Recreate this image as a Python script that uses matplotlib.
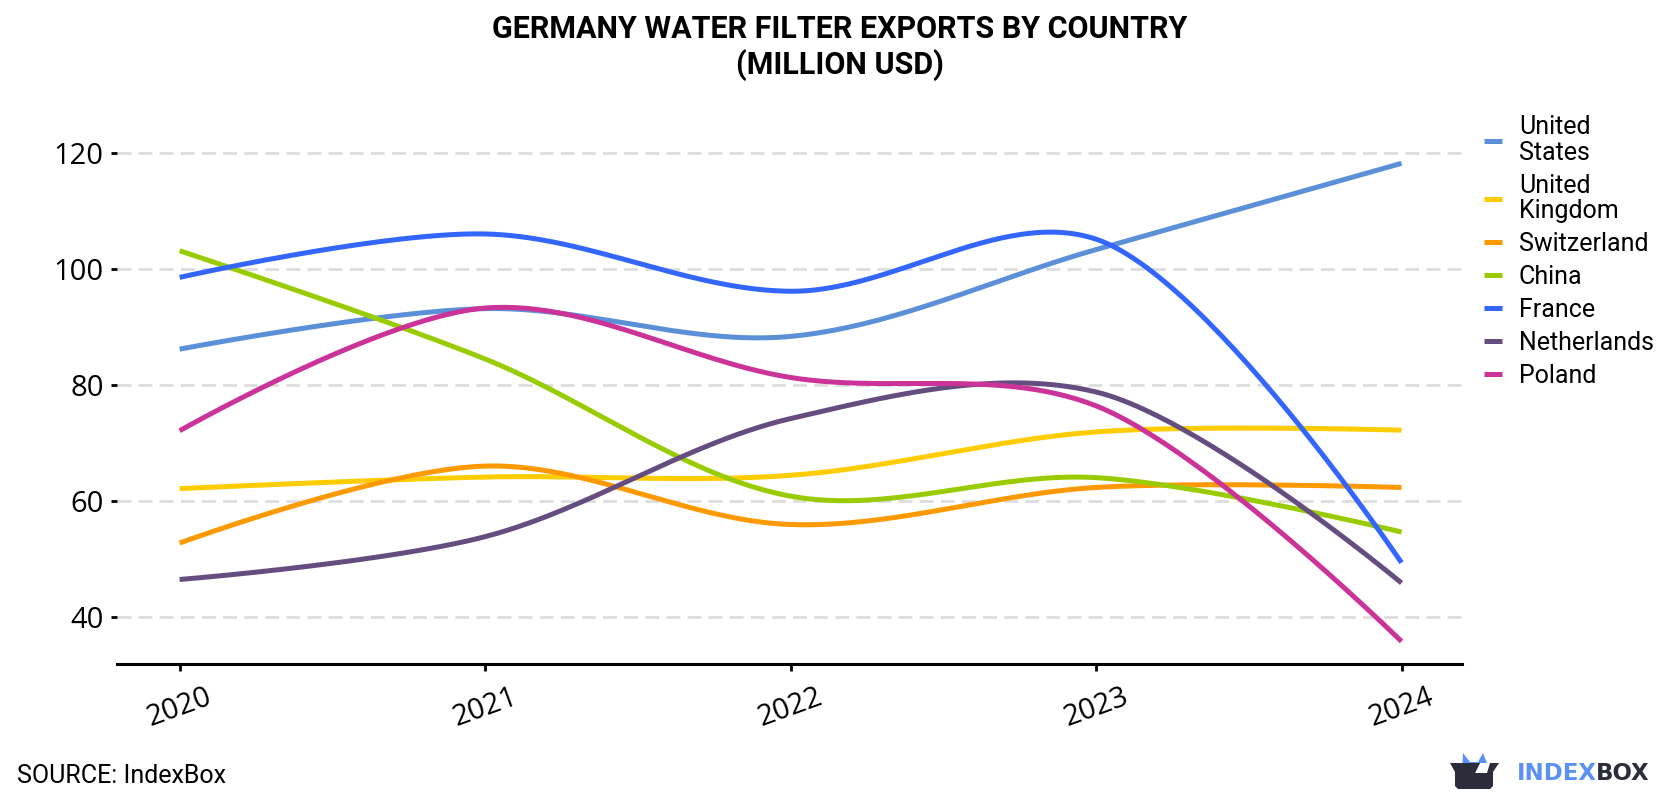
"""Germany water filter exports by destination, 2020-2024."""
import matplotlib
matplotlib.use("Agg")
import matplotlib.pyplot as plt
import numpy as np
from matplotlib.patches import Polygon

YEARS = [2020, 2021, 2022, 2023, 2024]
UNITED_STATES = [86.2, 93.2, 88.4, 103.4, 118.3]
UNITED_KINGDOM = [62.1, 64.1, 64.4, 71.9, 72.2]
SWITZERLAND = [52.7, 66.0, 55.9, 62.3, 62.3]
CHINA = [103.2, 84.5, 60.8, 64.0, 54.6]
FRANCE = [98.6, 106.1, 96.2, 105.2, 49.3]
NETHERLANDS = [46.4, 53.8, 74.2, 78.8, 45.8]
POLAND = [72.1, 93.3, 81.3, 76.4, 35.7]

NAMES = ["United\nStates", "United\nKingdom", "Switzerland", "China",
         "France", "Netherlands", "Poland"]
SERIES = [UNITED_STATES, UNITED_KINGDOM, SWITZERLAND, CHINA,
          FRANCE, NETHERLANDS, POLAND]
COLORS = ["#5b90d8", "#ffcc00", "#ff9900", "#99cc00",
          "#3366ff", "#664d80", "#cc3399"]
Y_TICKS = [40, 60, 80, 100, 120]

W, H = 1680, 800
PX_PER_YEAR = 305.5
PX_PER_UNIT = 5.79


def centripetal_spline(xs, ys, steps=60):
    """Centripetal Catmull-Rom through the yearly values, as cubic Beziers.

    Chord lengths are taken in pixels so the curve shape follows the drawn aspect.
    """
    px = np.column_stack([np.asarray(xs, float) * PX_PER_YEAR,
                          np.asarray(ys, float) * PX_PER_UNIT])
    chords = np.sqrt(np.linalg.norm(np.diff(px, axis=0), axis=1))
    curve = []
    for i in range(len(px) - 1):
        p1, p2 = px[i], px[i + 1]
        d12 = chords[i]
        c1, c2 = p1, p2
        if i > 0:
            d01 = chords[i - 1]
            a = 2 * d01**2 + 3 * d01 * d12 + d12**2
            c1 = (p1 * a - px[i - 1] * d12**2 + p2 * d01**2) / (3 * d01 * (d01 + d12))
        if i < len(px) - 2:
            d23 = chords[i + 1]
            b = 2 * d23**2 + 3 * d23 * d12 + d12**2
            c2 = (p2 * b + p1 * d23**2 - px[i + 2] * d12**2) / (3 * d23 * (d23 + d12))
        t = np.linspace(0, 1, steps)[:, None]
        curve.append((1 - t)**3 * p1 + 3 * (1 - t)**2 * t * c1
                     + 3 * (1 - t) * t**2 * c2 + t**3 * p2)
    curve = np.concatenate(curve)
    return curve[:, 0] / PX_PER_YEAR, curve[:, 1] / PX_PER_UNIT


def main():
    plt.rcParams["font.family"] = ["Roboto", "DejaVu Sans"]
    fig = plt.figure(figsize=(W / 100, H / 100), dpi=100)

    # plot area: x 117-1462 px, y 130-664 px
    ax = fig.add_axes([117 / W, 1 - 664 / H, (1462 - 117) / W, (664 - 130) / H])
    ax.set_xlim(2019.795, 2024.198)
    ax.set_ylim(31.8, 124.06)

    for name, values, color in zip(NAMES, SERIES, COLORS):
        sx, sy = centripetal_spline(YEARS, values)
        ax.plot(sx, sy, color=color, lw=3.6, label=name, zorder=3,
                solid_capstyle="butt")

    ax.set_yticks(Y_TICKS)
    ax.set_xticks(YEARS)
    ax.set_xticklabels([str(y) for y in YEARS], rotation=20, fontsize=21,
                       family="Open Sans")
    ax.set_yticklabels([str(y) for y in Y_TICKS], fontsize=21, family="Open Sans")
    ax.grid(axis="y", color="#dddddd", lw=2, dashes=(5, 2.6))
    ax.set_axisbelow(True)
    for side in ["top", "right", "left"]:
        ax.spines[side].set_visible(False)
    ax.spines["bottom"].set_linewidth(2.2)
    ax.tick_params(axis="y", length=4.5, width=2, pad=5)
    ax.tick_params(axis="x", length=5, width=2, pad=8)

    leg = ax.legend(loc="upper left", bbox_to_anchor=(1484 / W, 1 - 115 / H),
                    bbox_transform=fig.transFigure, frameon=False, fontsize=18,
                    handlelength=0.72, handletextpad=0.68, labelspacing=0.36,
                    borderpad=0, borderaxespad=0)
    for text in leg.get_texts():
        text.set_linespacing(1.08)
    for handle in leg.legend_handles:
        handle.set_linewidth(3.6)

    fig.text(0.5, 1 - 29 / H, "GERMANY WATER FILTER EXPORTS BY COUNTRY", ha="center",
             va="center", fontsize=22, fontweight="bold")
    fig.text(0.5, 1 - 65 / H, "(MILLION USD)", ha="center", va="center",
             fontsize=22, fontweight="bold")
    fig.text(17 / W, 1 - 776 / H, "SOURCE: IndexBox", ha="left", va="center", fontsize=18)

    # logo, laid out in pixel coordinates
    logo = fig.add_axes([0, 0, 1, 1], zorder=5)
    logo.set_xlim(0, W)
    logo.set_ylim(H, 0)
    logo.axis("off")
    logo.add_patch(Polygon([(1462, 773), (1463, 753), (1470, 762), (1478, 762),
                            (1483, 753), (1487, 763), (1480, 763), (1475, 773)],
                           closed=True, fc="#5b90f5", ec="none"))
    logo.add_patch(Polygon([(1450, 763), (1480, 763), (1475, 773), (1487, 773),
                            (1490, 763), (1499, 763), (1493, 772), (1493, 786),
                            (1490, 789), (1458, 789), (1455, 786), (1455, 772)],
                           closed=True, fc="#2b2d3a", ec="none"))
    logo.text(1517, 773, "INDEX", color="#5b90f5", fontsize=16.5, fontweight="bold",
              ha="left", va="center", family="DejaVu Sans")
    logo.text(1596, 773, "BOX", color="#2b2d3a", fontsize=16.5, fontweight="bold",
              ha="left", va="center", family="DejaVu Sans")

    fig.savefig("out.png", dpi=100)


if __name__ == "__main__":
    main()
